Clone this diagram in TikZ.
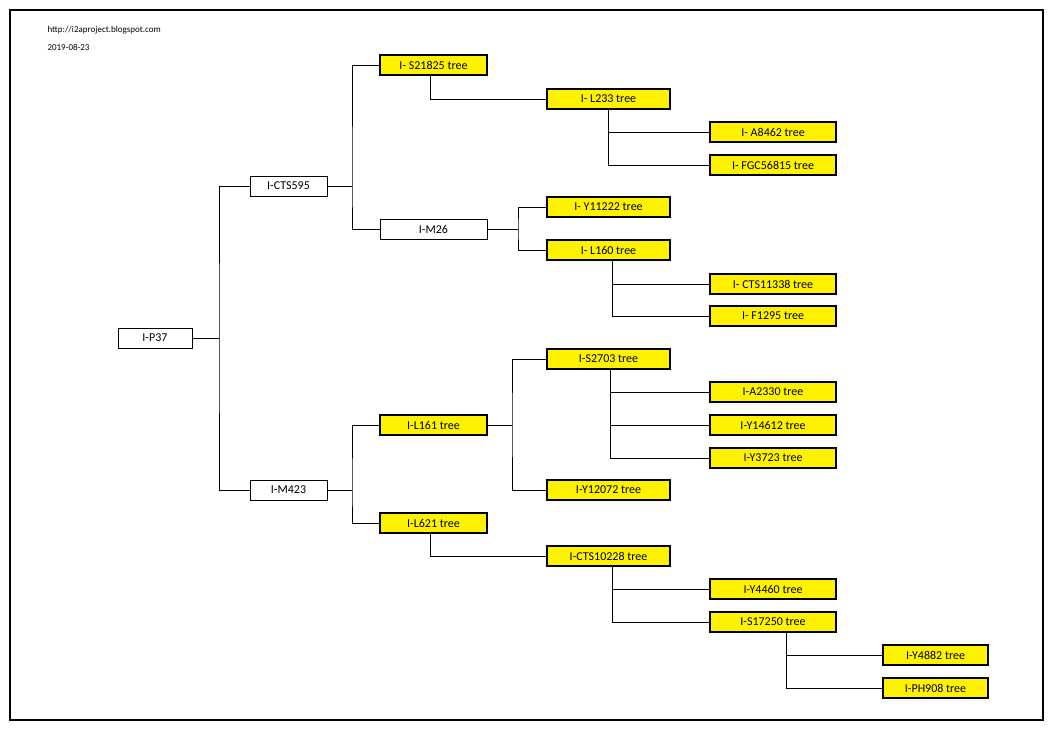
\documentclass[tikz,border=0pt]{standalone}
\usepackage{fontspec}
\setmainfont{Carlito}
\begin{document}
\begin{tikzpicture}[x=1pt,y=-1pt,
  box/.style={draw,line width=1pt,minimum height=20pt,inner sep=0pt,font=\fontsize{12}{14}\selectfont},
  wb/.style={box,fill=white},
  yb/.style={box,fill=yellow,line width=1.6pt},
  ln/.style={line width=0.8pt}]
\useasboundingbox (0,0) rectangle (1051,731);
\draw[line width=1.6pt] (10,10) rectangle (1043,720);
\node[anchor=west,font=\fontsize{9}{11}\selectfont] (u) at (44,30) {http://i2aproject.blogspot.com};
\node[anchor=west,font=\fontsize{9}{11}\selectfont] (d) at (44,47) {2019-08-23};
\node[wb,minimum width=74pt] (p37) at (155,338) {I-P37};
\node[wb,minimum width=77pt] (cts595) at (288.5,186) {I-CTS595};
\node[wb,minimum width=77pt] (m423) at (288.5,490) {I-M423};
\node[yb,minimum width=107pt] (s21825) at (433.5,65) {I- S21825 tree};
\node[wb,minimum width=107pt] (m26) at (433.5,229) {I-M26};
\node[yb,minimum width=107pt] (l161) at (433.5,425) {I-L161 tree};
\node[yb,minimum width=107pt] (l621) at (433.5,523) {I-L621 tree};
\node[yb,minimum width=123pt] (l233) at (608.5,99) {I- L233 tree};
\node[yb,minimum width=123pt] (y11222) at (608.5,207) {I- Y11222 tree};
\node[yb,minimum width=123pt] (l160) at (608.5,250) {I- L160 tree};
\node[yb,minimum width=123pt] (s2703) at (608.5,359) {I-S2703 tree};
\node[yb,minimum width=123pt] (y12072) at (608.5,490) {I-Y12072 tree};
\node[yb,minimum width=123pt] (cts10228) at (608.5,556) {I-CTS10228 tree};
\node[yb,minimum width=126pt] (a8462) at (773,132) {I- A8462 tree};
\node[yb,minimum width=126pt] (fgc) at (773,165) {I- FGC56815 tree};
\node[yb,minimum width=126pt] (cts11338) at (773,284) {I- CTS11338 tree};
\node[yb,minimum width=126pt] (f1295) at (773,316) {I- F1295 tree};
\node[yb,minimum width=126pt] (a2330) at (773,392) {I-A2330 tree};
\node[yb,minimum width=126pt] (y14612) at (773,425) {I-Y14612 tree};
\node[yb,minimum width=126pt] (y3723) at (773,458) {I-Y3723 tree};
\node[yb,minimum width=126pt] (y4460) at (773,589) {I-Y4460 tree};
\node[yb,minimum width=126pt] (s17250) at (773,622) {I-S17250 tree};
\node[yb,minimum width=105pt] (y4882) at (935.5,655) {I-Y4882 tree};
\node[yb,minimum width=105pt] (ph908) at (935.5,688) {I-PH908 tree};
% fork connectors
\draw[ln] (p37.east) -- (219,338);
\draw[ln] (cts595.west) -| (219,338) |- (m423.west);
\draw[ln] (cts595.east) -- (352,186);
\draw[ln] (s21825.west) -| (352,186) |- (m26.west);
\draw[ln] (m26.east) -- (518,229);
\draw[ln] (y11222.west) -| (518,229) |- (l160.west);
\draw[ln] (m423.east) -- (352,490);
\draw[ln] (l161.west) -| (352,490) |- (l621.west);
\draw[ln] (l161.east) -- (512,425);
\draw[ln] (s2703.west) -| (512,425) |- (y12072.west);
% elbow connectors
\draw[ln] (s21825.south -| 430,0) |- (l233.west);
\draw[ln] (l621.south -| 430,0) |- (cts10228.west);
\draw[ln] (l233.south -| 608,0) |- (fgc.west);
\draw[ln] (608,132) -- (a8462.west);
\draw[ln] (l160.south -| 612,0) |- (f1295.west);
\draw[ln] (612,284) -- (cts11338.west);
\draw[ln] (s2703.south -| 610,0) |- (y3723.west);
\draw[ln] (610,392) -- (a2330.west);
\draw[ln] (610,425) -- (y14612.west);
\draw[ln] (cts10228.south -| 612,0) |- (s17250.west);
\draw[ln] (612,589) -- (y4460.west);
\draw[ln] (s17250.south -| 786,0) |- (ph908.west);
\draw[ln] (786,655) -- (y4882.west);
\end{tikzpicture}
\end{document}
